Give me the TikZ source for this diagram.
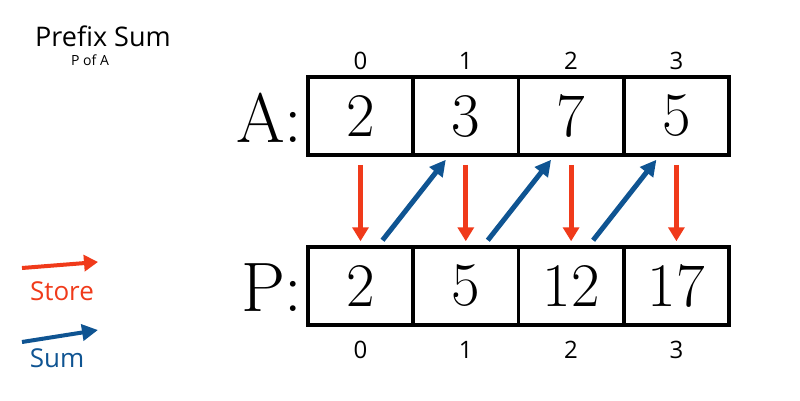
\documentclass[tikz,border=0pt]{standalone}
\usepackage{fontspec}
\newfontfamily\sansf{Open Sans}
\usetikzlibrary{arrows.meta}
\definecolor{red1}{HTML}{F03A1A}
\definecolor{blue1}{HTML}{0F5492}
\tikzset{
 cell/.style={draw,line width=3.5pt,minimum width=105pt,minimum height=78pt,inner sep=0pt,font=\fontsize{62}{62}\selectfont},
 idx/.style={font=\sansf\fontsize{24}{24}\selectfont},
 lbl/.style={font=\fontsize{70}{70}\selectfont,anchor=east},
 store/.style={red1,line width=5pt,-{Triangle[length=14pt,width=16pt]}},
 summ/.style={blue1,line width=5pt,-{Triangle[length=16pt,width=16pt]}}
}
\begin{document}
\begin{tikzpicture}[x=1pt,y=-1pt]
\useasboundingbox (0,0) rectangle (800,400);
\node[font=\sansf\fontsize{27}{27}\selectfont] (title) at (103,36) {Prefix Sum};
\node[font=\sansf\fontsize{14}{14}\selectfont] (sub) at (90,60) {P of A};
\foreach \v [count=\i from 0] in {2,3,7,5}{
  \node[cell] (a\i) at (360.5+105.3*\i,116) {\v};
  \node[idx] (ai\i) at (360.5+105.3*\i,61) {\i};
}
\foreach \v [count=\i from 0] in {2,5,12,17}{
  \node[cell] (p\i) at (360.5+105.3*\i,286) {\v};
  \node[idx] (pi\i) at (360.5+105.3*\i,350) {\i};
}
\node[lbl] (al) at (306,118) {A:};
\node[lbl] (pl) at (306,288) {P:};
\foreach \i in {0,1,2,3}{
  \draw[store] ([yshift=-8pt]a\i.south) -- ([yshift=4pt]p\i.north);
}
\foreach \i/\j in {0/1,1/2,2/3}{
  \draw[summ] ([xshift=22pt,yshift=5pt]p\i.north) -- ([xshift=-20pt,yshift=-3pt]a\j.south);
}
\coordinate (s1) at (22,268);
\coordinate (s2) at (98,262);
\draw[store,line width=4pt] (s1) -- (s2);
\node[red1,font=\sansf\fontsize{26}{26}\selectfont] (st) at (62,291) {Store};
\coordinate (u1) at (22,342);
\coordinate (u2) at (98,330);
\draw[summ,line width=4pt] (u1) -- (u2);
\node[blue1,font=\sansf\fontsize{26}{26}\selectfont] (su) at (57,358) {Sum};
\end{tikzpicture}
\end{document}
